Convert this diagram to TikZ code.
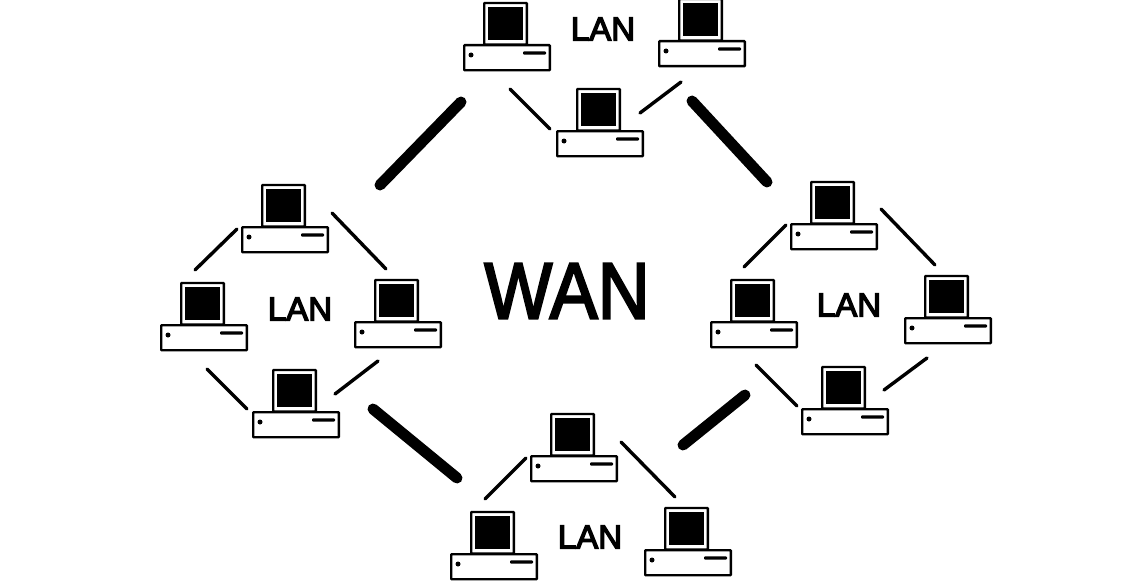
\documentclass[tikz,border=0pt]{standalone}
\usepackage{fontspec}
\setmainfont{Liberation Sans}
\newfontfamily\lanfont[FakeBold=4]{Liberation Sans}
\newfontfamily\wanfont[FakeBold=3]{Liberation Sans}
\tikzset{
  x=1pt,y=-1pt,
  pcpart/.style={draw=black,line width=2.4pt,fill=white,inner sep=0pt,outer sep=0pt,rounded corners=0.6pt},
  pcbase/.style={pcpart,minimum width=85.6pt,minimum height=25pt,anchor=north west},
  pcmonitor/.style={pcpart,minimum width=42.6pt,minimum height=41.5pt,anchor=south west},
  pcscreen/.style={fill=black,inner sep=0pt,outer sep=0pt,minimum width=35pt,minimum height=33pt,anchor=south west},
  pcled/.style={circle,fill=black,inner sep=0pt,minimum size=5pt},
  pcslot/.style={fill=black,inner sep=0pt,minimum width=23pt,minimum height=3.2pt,rounded corners=1pt},
  thinlink/.style={line width=3.4pt,line cap=round,black},
  wanlink/.style={line width=11pt,line cap=round,black},
  lanlabel/.style={font=\lanfont\fontsize{33}{33}\selectfont,inner sep=0pt,text=black},
  wanlabel/.style={font=\wanfont\fontsize{80}{80}\selectfont,inner sep=0pt,text=black,xscale=0.9},
}
\newcommand{\pcunit}[3]{%
  \node[pcbase] (#1) at (#2+1.2,#3+1.2) {};
  \node[pcmonitor] (#1m) at (#2+21.2,#3+0.5) {};
  \node[pcscreen] (#1s) at (#2+25,#3-4) {};
  \node[pcled] (#1d) at (#2+8,#3+11) {};
  \node[pcslot] (#1k) at (#2+71.5,#3+9) {};
}
\newcommand{\linkseg}[6]{%
  \coordinate (#1a) at (#3,#4);
  \coordinate (#1b) at (#5,#6);
  \draw[#2] (#1a) -- (#1b);
}
\begin{document}
\begin{tikzpicture}
\useasboundingbox[fill=white] (0,0) rectangle (1129,586);
% top LAN
\pcunit{ta}{463}{44}
\pcunit{tb}{658}{40}
\pcunit{tc}{556}{130}
% left LAN
\pcunit{la}{241}{226}
\pcunit{lb}{160}{324}
\pcunit{lc}{354}{321}
\pcunit{ld}{252}{411}
% right LAN
\pcunit{ra}{790}{223}
\pcunit{rb}{710}{321}
\pcunit{rc}{904}{317}
\pcunit{rd}{801}{408}
% bottom LAN
\pcunit{ba}{530}{455}
\pcunit{bb}{450}{553}
\pcunit{bc}{644}{549}
% labels
\node[lanlabel] (lant) at (603,29) {LAN};
\node[lanlabel] (lanl) at (300,309) {LAN};
\node[lanlabel] (lanr) at (849,305) {LAN};
\node[lanlabel] (lanb) at (590,537) {LAN};
\node[wanlabel] (wan) at (567,291) {WAN};
% thin links
\linkseg{t1}{thinlink}{510}{89}{550}{129}
\linkseg{t2}{thinlink}{640}{113}{681}{82}
\linkseg{l1}{thinlink}{195}{270}{237}{229}
\linkseg{l2}{thinlink}{332}{213}{386}{269}
\linkseg{l3}{thinlink}{207}{369}{247}{409}
\linkseg{l4}{thinlink}{335}{394}{378}{361}
\linkseg{r1}{thinlink}{744}{267}{786}{225}
\linkseg{r2}{thinlink}{881}{209}{935}{265}
\linkseg{r3}{thinlink}{756}{365}{797}{406}
\linkseg{r4}{thinlink}{884}{390}{927}{358}
\linkseg{b1}{thinlink}{485}{499}{526}{458}
\linkseg{b2}{thinlink}{621}{442}{675}{497}
% WAN links
\linkseg{w1}{wanlink}{380}{185}{461}{102}
\linkseg{w2}{wanlink}{692}{101}{767}{182}
\linkseg{w3}{wanlink}{373}{409}{457}{478}
\linkseg{w4}{wanlink}{683}{445}{745}{395}
\end{tikzpicture}
\end{document}
